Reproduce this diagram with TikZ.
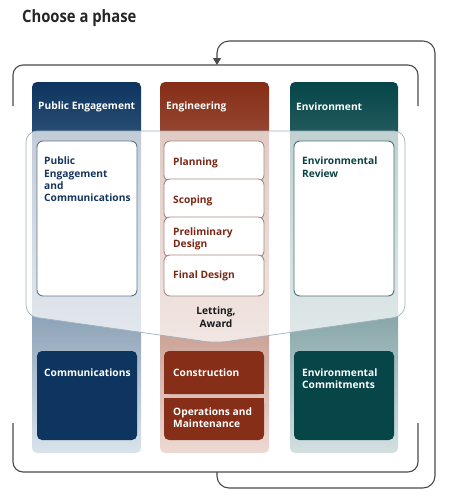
\documentclass[tikz,border=0pt]{standalone}
\usepackage{fontspec}
\setmainfont{Open Sans}
\newfontfamily\titlefont[FakeStretch=0.87]{Open Sans}
\usetikzlibrary{arrows.meta}
\definecolor{lineg}{HTML}{4A4A4A}
\definecolor{blueD}{HTML}{0D3560}
\definecolor{blueL}{HTML}{D9E3EB}
\definecolor{blueT}{HTML}{14355E}
\definecolor{blueB}{HTML}{5E7590}
\definecolor{redD}{HTML}{862E17}
\definecolor{redL}{HTML}{EDDAD4}
\definecolor{redT}{HTML}{7A2715}
\definecolor{redB}{HTML}{A88A82}
\definecolor{tealD}{HTML}{064548}
\definecolor{tealL}{HTML}{D3E0E1}
\definecolor{tealT}{HTML}{0C4145}
\definecolor{tealB}{HTML}{4A7376}
\definecolor{bandB}{HTML}{9FB0BF}
\tikzset{
  loopline/.style={draw=lineg, line width=1.1pt},
  column/.style={rounded corners=5pt},
  whitebox/.style={draw, fill=white, rounded corners=6pt, line width=0.9pt},
  darkbox/.style={rounded corners=5pt},
  lbl/.style={font=\fontsize{10.2}{12.3}\selectfont\bfseries, inner sep=0pt, align=left, anchor=north west},
  hdr/.style={font=\fontsize{10.2}{12}\selectfont\bfseries, text=white, inner sep=0pt, anchor=west},
}
\begin{document}
\begin{tikzpicture}[x=1pt,y=-1pt]
\useasboundingbox (0,0) rectangle (450,496);
% title
\node[anchor=base west, inner sep=0pt, text=black!85, font=\titlefont\fontsize{17}{20}\selectfont\bfseries] (title) at (22,22) {Choose a phase};
% outer frame
\draw[loopline, rounded corners=10pt] (13,106) -- (13,65) -- (418,65) -- (418,106);
\draw[loopline, rounded corners=10pt] (13,423) -- (13,472) -- (418,472) -- (418,423);
% feedback arrow
\coordinate (loopstart) at (217,472);
\coordinate (looptip) at (217,65);
\draw[loopline, rounded corners=12pt, -{Triangle[width=8pt,length=7pt]}] (loopstart) -- (217,488) -- (435,488) -- (435,41) -- (217,41) -- (looptip);
% columns
\shade[column, top color=blueD, bottom color=blueL] (32,82) rectangle (141,453);
\shade[column, top color=redD, bottom color=redL] (160,82) rectangle (269,453);
\shade[column, top color=tealD, bottom color=tealL] (290,82) rectangle (398,453);
\node[hdr] (h1) at (38,107) {Public Engagement};
\node[hdr] (h2) at (166,107) {Engineering};
\node[hdr] (h3) at (296,107) {Environment};
% band overlay
\draw[draw=bandB, line width=0.7pt, fill=white, fill opacity=0.72, rounded corners=11pt]
  (216,343) -- (26,316) -- (26,131) -- (405,131) -- (405,316) -- cycle;
% white boxes
\draw[whitebox, draw=blueB] (37,141) rectangle (137,296);
\node[lbl, text=blueT] (t1) at (44,157) {Public\\Engagement\\and\\Communications};
\draw[whitebox, draw=redB] (164,141) rectangle (264,181);
\node[lbl, text=redT] (t2) at (173,157.5) {Planning};
\draw[whitebox, draw=redB] (164,179) rectangle (264,219);
\node[lbl, text=redT] (t3) at (173,195.7) {Scoping};
\draw[whitebox, draw=redB] (164,217) rectangle (264,257);
\node[lbl, text=redT] (t4) at (173,227.5) {Preliminary\\Design};
\draw[whitebox, draw=redB] (164,255) rectangle (264,296);
\node[lbl, text=redT] (t5) at (173,270.7) {Final Design};
\draw[whitebox, draw=tealB] (294,141) rectangle (394,296);
\node[lbl, text=tealT] (t6) at (302,157) {Environmental\\Review};
\node[font=\fontsize{10.2}{13.5}\selectfont\bfseries, text=black!90, align=center, inner sep=0pt, anchor=north] (let) at (216,306.5) {Letting,\\Award};
% bottom boxes
\fill[darkbox, blueD] (37,351) rectangle (137,440);
\node[lbl, text=white] (b1) at (44,368.7) {Communications};
\fill[darkbox, redD] (164,351) rectangle (264,394);
\fill[redD] (164,380) rectangle (264,394);
\node[lbl, text=white] (b2) at (173,368.7) {Construction};
\fill[darkbox, redD] (164,398) rectangle (264,440);
\fill[redD] (164,398) rectangle (264,410);
\node[lbl, text=white] (b3) at (173,407.7) {Operations and\\Maintenance};
\fill[darkbox, tealD] (294,351) rectangle (394,440);
\node[lbl, text=white] (b4) at (302,368.7) {Environmental\\Commitments};
\end{tikzpicture}
\end{document}
